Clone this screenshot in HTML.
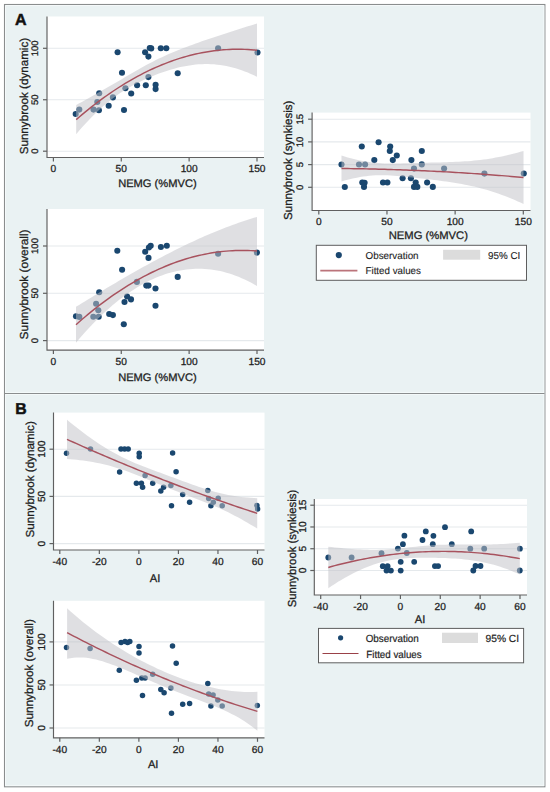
<!DOCTYPE html>
<html><head><meta charset="utf-8"><style>
html,body{margin:0;padding:0;background:#fff;width:550px;height:792px;overflow:hidden;font-family:"Liberation Sans", sans-serif;}
svg{display:block;}
</style></head><body>
<svg width="550" height="792" viewBox="0 0 550 792" text-rendering="geometricPrecision" font-family='"Liberation Sans", sans-serif'>
<rect x="0" y="0" width="550" height="792" fill="#ffffff"/>
<rect x="4.5" y="4.5" width="540.4" height="782.3" fill="#eaf2f3" stroke="#8a8d8e" stroke-width="1.1"/>
<path d="M5.6,5.5 H544 M5.5,5.6 V786 M5.6,392.4 H544 M5.6,394.6 H544 M5.6,785.6 H544 M543.9,5.6 V786" stroke="#f6fafb" stroke-width="0.9" fill="none"/>
<line x1="4.5" y1="393.5" x2="544.5" y2="393.5" stroke="#8a8d8e" stroke-width="1"/>
<rect x="47.00" y="16.50" width="217.00" height="141.00" fill="#ffffff"/>
<line x1="47.00" y1="151.20" x2="264.00" y2="151.20" stroke="#e5e9ec" stroke-width="1.1"/>
<line x1="47.00" y1="99.75" x2="264.00" y2="99.75" stroke="#e5e9ec" stroke-width="1.1"/>
<line x1="47.00" y1="48.30" x2="264.00" y2="48.30" stroke="#e5e9ec" stroke-width="1.1"/>
<circle cx="75.70" cy="114.00" r="3.05" fill="#1a476f"/>
<circle cx="79.30" cy="109.60" r="3.05" fill="#1a476f"/>
<circle cx="93.50" cy="109.60" r="3.05" fill="#1a476f"/>
<circle cx="97.30" cy="102.00" r="3.05" fill="#1a476f"/>
<circle cx="98.90" cy="110.20" r="3.05" fill="#1a476f"/>
<circle cx="99.20" cy="93.30" r="3.05" fill="#1a476f"/>
<circle cx="108.70" cy="105.80" r="3.05" fill="#1a476f"/>
<circle cx="112.90" cy="97.40" r="3.05" fill="#1a476f"/>
<circle cx="117.60" cy="52.30" r="3.05" fill="#1a476f"/>
<circle cx="122.00" cy="72.80" r="3.05" fill="#1a476f"/>
<circle cx="124.00" cy="110.00" r="3.05" fill="#1a476f"/>
<circle cx="125.40" cy="88.20" r="3.05" fill="#1a476f"/>
<circle cx="131.20" cy="93.50" r="3.05" fill="#1a476f"/>
<circle cx="137.10" cy="85.30" r="3.05" fill="#1a476f"/>
<circle cx="145.80" cy="85.30" r="3.05" fill="#1a476f"/>
<circle cx="145.10" cy="52.20" r="3.05" fill="#1a476f"/>
<circle cx="148.40" cy="56.60" r="3.05" fill="#1a476f"/>
<circle cx="149.80" cy="48.00" r="3.05" fill="#1a476f"/>
<circle cx="151.20" cy="48.40" r="3.05" fill="#1a476f"/>
<circle cx="148.40" cy="77.10" r="3.05" fill="#1a476f"/>
<circle cx="155.60" cy="84.70" r="3.05" fill="#1a476f"/>
<circle cx="155.60" cy="89.10" r="3.05" fill="#1a476f"/>
<circle cx="160.80" cy="48.20" r="3.05" fill="#1a476f"/>
<circle cx="166.30" cy="48.20" r="3.05" fill="#1a476f"/>
<circle cx="177.70" cy="73.20" r="3.05" fill="#1a476f"/>
<circle cx="218.10" cy="48.20" r="3.05" fill="#1a476f"/>
<circle cx="257.50" cy="52.50" r="3.05" fill="#1a476f"/>
<polygon points="76.20,105.05 79.26,103.34 82.33,101.64 85.39,99.93 88.46,98.22 91.52,96.51 94.59,94.80 97.65,93.08 100.72,91.34 103.78,89.60 106.84,87.84 109.91,86.07 112.97,84.29 116.04,82.50 119.10,80.69 122.17,78.88 125.23,77.07 128.29,75.26 131.36,73.46 134.42,71.68 137.49,69.92 140.55,68.19 143.62,66.50 146.68,64.84 149.75,63.21 152.81,61.63 155.87,60.09 158.94,58.60 162.00,57.15 165.07,55.73 168.13,54.36 171.20,53.03 174.26,51.74 177.33,50.48 180.39,49.25 183.45,48.06 186.52,46.89 189.58,45.75 192.65,44.63 195.71,43.52 198.78,42.44 201.84,41.37 204.91,40.31 207.97,39.27 211.03,38.23 214.10,37.21 217.16,36.19 220.23,35.18 223.29,34.17 226.36,33.17 229.42,32.18 232.48,31.20 235.55,30.22 238.61,29.24 241.68,28.27 244.74,27.31 247.81,26.36 250.87,25.41 253.94,24.46 257.00,23.53 257.00,76.86 253.94,75.35 250.87,73.94 247.81,72.62 244.74,71.40 241.68,70.27 238.61,69.23 235.55,68.29 232.48,67.45 229.42,66.70 226.36,66.04 223.29,65.48 220.23,65.02 217.16,64.65 214.10,64.37 211.03,64.18 207.97,64.09 204.91,64.09 201.84,64.17 198.78,64.35 195.71,64.61 192.65,64.95 189.58,65.38 186.52,65.88 183.45,66.46 180.39,67.11 177.33,67.84 174.26,68.63 171.20,69.49 168.13,70.41 165.07,71.39 162.00,72.43 158.94,73.54 155.87,74.69 152.81,75.91 149.75,77.19 146.68,78.52 143.62,79.92 140.55,81.38 137.49,82.91 134.42,84.52 131.36,86.20 128.29,87.96 125.23,89.82 122.17,91.77 119.10,93.83 116.04,95.99 112.97,98.26 109.91,100.64 106.84,103.14 103.78,105.75 100.72,108.48 97.65,111.32 94.59,114.27 91.52,117.32 88.46,120.49 85.39,123.75 82.33,127.12 79.26,130.59 76.20,134.16" fill="rgba(194,194,199,0.52)"/>
<polyline points="76.20,119.61 79.26,116.97 82.33,114.38 85.39,111.84 88.46,109.36 91.52,106.92 94.59,104.53 97.65,102.20 100.72,99.91 103.78,97.68 106.84,95.49 109.91,93.36 112.97,91.27 116.04,89.24 119.10,87.26 122.17,85.33 125.23,83.44 128.29,81.61 131.36,79.83 134.42,78.10 137.49,76.42 140.55,74.79 143.62,73.21 146.68,71.68 149.75,70.20 152.81,68.77 155.87,67.39 158.94,66.07 162.00,64.79 165.07,63.56 168.13,62.39 171.20,61.26 174.26,60.18 177.33,59.16 180.39,58.18 183.45,57.26 186.52,56.39 189.58,55.56 192.65,54.79 195.71,54.07 198.78,53.39 201.84,52.77 204.91,52.20 207.97,51.68 211.03,51.21 214.10,50.79 217.16,50.42 220.23,50.10 223.29,49.83 226.36,49.61 229.42,49.44 232.48,49.32 235.55,49.26 238.61,49.24 241.68,49.27 244.74,49.35 247.81,49.49 250.87,49.67 253.94,49.91 257.00,50.19" fill="none" stroke="#a8525e" stroke-width="1.45"/>
<path d="M47.00,16.50 L47.00,157.50 L264.00,157.50" fill="none" stroke="#606060" stroke-width="1.15"/>
<line x1="43.00" y1="151.20" x2="47.00" y2="151.20" stroke="#606060" stroke-width="1.2"/>
<text x="0" y="0" transform="translate(38.30,151.20) rotate(-90)" font-size="9.50" text-anchor="middle" font-weight="normal" fill="#1e1e1e" stroke="#1e1e1e" stroke-width="0.28">0</text>
<line x1="43.00" y1="99.75" x2="47.00" y2="99.75" stroke="#606060" stroke-width="1.2"/>
<text x="0" y="0" transform="translate(38.30,99.75) rotate(-90)" font-size="9.50" text-anchor="middle" font-weight="normal" fill="#1e1e1e" stroke="#1e1e1e" stroke-width="0.28">50</text>
<line x1="43.00" y1="48.30" x2="47.00" y2="48.30" stroke="#606060" stroke-width="1.2"/>
<text x="0" y="0" transform="translate(38.30,48.30) rotate(-90)" font-size="9.50" text-anchor="middle" font-weight="normal" fill="#1e1e1e" stroke="#1e1e1e" stroke-width="0.28">100</text>
<line x1="53.40" y1="157.50" x2="53.40" y2="161.50" stroke="#606060" stroke-width="1.2"/>
<text x="53.40" y="172.20" font-size="10.20" text-anchor="middle" font-weight="normal" fill="#1e1e1e" stroke="#1e1e1e" stroke-width="0.28">0</text>
<line x1="121.27" y1="157.50" x2="121.27" y2="161.50" stroke="#606060" stroke-width="1.2"/>
<text x="121.27" y="172.20" font-size="10.20" text-anchor="middle" font-weight="normal" fill="#1e1e1e" stroke="#1e1e1e" stroke-width="0.28">50</text>
<line x1="189.13" y1="157.50" x2="189.13" y2="161.50" stroke="#606060" stroke-width="1.2"/>
<text x="189.13" y="172.20" font-size="10.20" text-anchor="middle" font-weight="normal" fill="#1e1e1e" stroke="#1e1e1e" stroke-width="0.28">100</text>
<line x1="257.00" y1="157.50" x2="257.00" y2="161.50" stroke="#606060" stroke-width="1.2"/>
<text x="257.00" y="172.20" font-size="10.20" text-anchor="middle" font-weight="normal" fill="#1e1e1e" stroke="#1e1e1e" stroke-width="0.28">150</text>
<text x="157.40" y="186.60" font-size="11.00" text-anchor="middle" font-weight="normal" fill="#1e1e1e" stroke="#1e1e1e" stroke-width="0.28" textLength="78.5" lengthAdjust="spacingAndGlyphs">NEMG (%MVC)</text>
<text x="0" y="0" transform="translate(27.60,96.10) rotate(-90)" font-size="11.60" text-anchor="middle" font-weight="normal" fill="#1e1e1e" stroke="#1e1e1e" stroke-width="0.28" textLength="116.5" lengthAdjust="spacingAndGlyphs">Sunnybrook (dynamic)</text>
<rect x="47.00" y="209.00" width="217.00" height="141.10" fill="#ffffff"/>
<line x1="47.00" y1="340.60" x2="264.00" y2="340.60" stroke="#e5e9ec" stroke-width="1.1"/>
<line x1="47.00" y1="293.30" x2="264.00" y2="293.30" stroke="#e5e9ec" stroke-width="1.1"/>
<line x1="47.00" y1="246.00" x2="264.00" y2="246.00" stroke="#e5e9ec" stroke-width="1.1"/>
<circle cx="76.00" cy="316.30" r="3.05" fill="#1a476f"/>
<circle cx="79.30" cy="316.90" r="3.05" fill="#1a476f"/>
<circle cx="93.30" cy="316.80" r="3.05" fill="#1a476f"/>
<circle cx="98.70" cy="316.80" r="3.05" fill="#1a476f"/>
<circle cx="98.30" cy="310.30" r="3.05" fill="#1a476f"/>
<circle cx="96.10" cy="303.80" r="3.05" fill="#1a476f"/>
<circle cx="99.20" cy="292.20" r="3.05" fill="#1a476f"/>
<circle cx="109.20" cy="314.00" r="3.05" fill="#1a476f"/>
<circle cx="112.90" cy="315.10" r="3.05" fill="#1a476f"/>
<circle cx="123.80" cy="324.30" r="3.05" fill="#1a476f"/>
<circle cx="124.50" cy="302.00" r="3.05" fill="#1a476f"/>
<circle cx="127.10" cy="296.50" r="3.05" fill="#1a476f"/>
<circle cx="131.00" cy="299.40" r="3.05" fill="#1a476f"/>
<circle cx="117.30" cy="250.70" r="3.05" fill="#1a476f"/>
<circle cx="122.10" cy="269.70" r="3.05" fill="#1a476f"/>
<circle cx="136.90" cy="281.90" r="3.05" fill="#1a476f"/>
<circle cx="146.30" cy="285.60" r="3.05" fill="#1a476f"/>
<circle cx="148.50" cy="285.60" r="3.05" fill="#1a476f"/>
<circle cx="155.50" cy="288.50" r="3.05" fill="#1a476f"/>
<circle cx="155.50" cy="305.70" r="3.05" fill="#1a476f"/>
<circle cx="145.20" cy="251.80" r="3.05" fill="#1a476f"/>
<circle cx="148.50" cy="257.90" r="3.05" fill="#1a476f"/>
<circle cx="148.90" cy="247.50" r="3.05" fill="#1a476f"/>
<circle cx="150.70" cy="245.70" r="3.05" fill="#1a476f"/>
<circle cx="160.90" cy="247.00" r="3.05" fill="#1a476f"/>
<circle cx="166.80" cy="245.70" r="3.05" fill="#1a476f"/>
<circle cx="177.70" cy="276.90" r="3.05" fill="#1a476f"/>
<circle cx="218.10" cy="253.70" r="3.05" fill="#1a476f"/>
<circle cx="256.90" cy="252.60" r="3.05" fill="#1a476f"/>
<polygon points="76.00,306.85 79.07,304.95 82.14,303.05 85.20,301.17 88.27,299.28 91.34,297.40 94.41,295.53 97.47,293.67 100.54,291.81 103.61,289.97 106.68,288.12 109.75,286.29 112.81,284.47 115.88,282.66 118.95,280.85 122.02,279.06 125.08,277.28 128.15,275.51 131.22,273.75 134.29,272.00 137.36,270.26 140.42,268.54 143.49,266.83 146.56,265.14 149.63,263.46 152.69,261.79 155.76,260.14 158.83,258.50 161.90,256.89 164.97,255.28 168.03,253.70 171.10,252.13 174.17,250.57 177.24,249.04 180.31,247.53 183.37,246.03 186.44,244.55 189.51,243.10 192.58,241.66 195.64,240.24 198.71,238.85 201.78,237.47 204.85,236.12 207.92,234.79 210.98,233.49 214.05,232.20 217.12,230.94 220.19,229.71 223.25,228.50 226.32,227.31 229.39,226.15 232.46,225.02 235.53,223.91 238.59,222.83 241.66,221.77 244.73,220.74 247.80,219.74 250.86,218.77 253.93,217.83 257.00,216.92 257.00,286.00 253.93,284.23 250.86,282.56 247.80,280.99 244.73,279.51 241.66,278.13 238.59,276.84 235.53,275.65 232.46,274.55 229.39,273.55 226.32,272.64 223.25,271.83 220.19,271.12 217.12,270.50 214.05,269.97 210.98,269.54 207.92,269.20 204.85,268.96 201.78,268.81 198.71,268.76 195.64,268.80 192.58,268.93 189.51,269.16 186.44,269.48 183.37,269.90 180.31,270.40 177.24,271.01 174.17,271.70 171.10,272.49 168.03,273.37 164.97,274.35 161.90,275.42 158.83,276.58 155.76,277.84 152.69,279.18 149.63,280.62 146.56,282.15 143.49,283.78 140.42,285.50 137.36,287.30 134.29,289.21 131.22,291.20 128.15,293.28 125.08,295.46 122.02,297.73 118.95,300.09 115.88,302.54 112.81,305.08 109.75,307.72 106.68,310.44 103.61,313.26 100.54,316.17 97.47,319.16 94.41,322.25 91.34,325.43 88.27,328.70 85.20,332.06 82.14,335.51 79.07,339.05 76.00,342.69" fill="rgba(194,194,199,0.52)"/>
<polyline points="76.00,324.67 79.07,321.96 82.14,319.30 85.20,316.69 88.27,314.12 91.34,311.61 94.41,309.15 97.47,306.74 100.54,304.38 103.61,302.07 106.68,299.81 109.75,297.61 112.81,295.45 115.88,293.34 118.95,291.28 122.02,289.28 125.08,287.32 128.15,285.42 131.22,283.56 134.29,281.76 137.36,280.00 140.42,278.30 143.49,276.65 146.56,275.05 149.63,273.49 152.69,271.99 155.76,270.54 158.83,269.14 161.90,267.79 164.97,266.49 168.03,265.24 171.10,264.05 174.17,262.90 177.24,261.80 180.31,260.75 183.37,259.76 186.44,258.81 189.51,257.92 192.58,257.07 195.64,256.28 198.71,255.53 201.78,254.84 204.85,254.20 207.92,253.61 210.98,253.06 214.05,252.57 217.12,252.13 220.19,251.74 223.25,251.40 226.32,251.11 229.39,250.87 232.46,250.68 235.53,250.55 238.59,250.46 241.66,250.42 244.73,250.44 247.80,250.50 250.86,250.62 253.93,250.78 257.00,251.00" fill="none" stroke="#a8525e" stroke-width="1.45"/>
<path d="M47.00,209.00 L47.00,350.10 L264.00,350.10" fill="none" stroke="#606060" stroke-width="1.15"/>
<line x1="43.00" y1="340.60" x2="47.00" y2="340.60" stroke="#606060" stroke-width="1.2"/>
<text x="0" y="0" transform="translate(38.30,340.60) rotate(-90)" font-size="9.50" text-anchor="middle" font-weight="normal" fill="#1e1e1e" stroke="#1e1e1e" stroke-width="0.28">0</text>
<line x1="43.00" y1="293.30" x2="47.00" y2="293.30" stroke="#606060" stroke-width="1.2"/>
<text x="0" y="0" transform="translate(38.30,293.30) rotate(-90)" font-size="9.50" text-anchor="middle" font-weight="normal" fill="#1e1e1e" stroke="#1e1e1e" stroke-width="0.28">50</text>
<line x1="43.00" y1="246.00" x2="47.00" y2="246.00" stroke="#606060" stroke-width="1.2"/>
<text x="0" y="0" transform="translate(38.30,246.00) rotate(-90)" font-size="9.50" text-anchor="middle" font-weight="normal" fill="#1e1e1e" stroke="#1e1e1e" stroke-width="0.28">100</text>
<line x1="53.40" y1="350.10" x2="53.40" y2="354.10" stroke="#606060" stroke-width="1.2"/>
<text x="53.40" y="365.00" font-size="10.20" text-anchor="middle" font-weight="normal" fill="#1e1e1e" stroke="#1e1e1e" stroke-width="0.28">0</text>
<line x1="121.27" y1="350.10" x2="121.27" y2="354.10" stroke="#606060" stroke-width="1.2"/>
<text x="121.27" y="365.00" font-size="10.20" text-anchor="middle" font-weight="normal" fill="#1e1e1e" stroke="#1e1e1e" stroke-width="0.28">50</text>
<line x1="189.13" y1="350.10" x2="189.13" y2="354.10" stroke="#606060" stroke-width="1.2"/>
<text x="189.13" y="365.00" font-size="10.20" text-anchor="middle" font-weight="normal" fill="#1e1e1e" stroke="#1e1e1e" stroke-width="0.28">100</text>
<line x1="257.00" y1="350.10" x2="257.00" y2="354.10" stroke="#606060" stroke-width="1.2"/>
<text x="257.00" y="365.00" font-size="10.20" text-anchor="middle" font-weight="normal" fill="#1e1e1e" stroke="#1e1e1e" stroke-width="0.28">150</text>
<text x="157.40" y="381.40" font-size="11.00" text-anchor="middle" font-weight="normal" fill="#1e1e1e" stroke="#1e1e1e" stroke-width="0.28" textLength="78.5" lengthAdjust="spacingAndGlyphs">NEMG (%MVC)</text>
<text x="0" y="0" transform="translate(27.60,284.40) rotate(-90)" font-size="11.60" text-anchor="middle" font-weight="normal" fill="#1e1e1e" stroke="#1e1e1e" stroke-width="0.28" textLength="110.0" lengthAdjust="spacingAndGlyphs">Sunnybrook (overall)</text>
<rect x="312.10" y="112.60" width="218.40" height="97.90" fill="#ffffff"/>
<line x1="312.10" y1="187.30" x2="530.50" y2="187.30" stroke="#e5e9ec" stroke-width="1.1"/>
<line x1="312.10" y1="164.60" x2="530.50" y2="164.60" stroke="#e5e9ec" stroke-width="1.1"/>
<line x1="312.10" y1="141.90" x2="530.50" y2="141.90" stroke="#e5e9ec" stroke-width="1.1"/>
<line x1="312.10" y1="119.20" x2="530.50" y2="119.20" stroke="#e5e9ec" stroke-width="1.1"/>
<circle cx="341.50" cy="164.50" r="3.05" fill="#1a476f"/>
<circle cx="344.80" cy="187.00" r="3.05" fill="#1a476f"/>
<circle cx="359.00" cy="164.50" r="3.05" fill="#1a476f"/>
<circle cx="365.10" cy="164.50" r="3.05" fill="#1a476f"/>
<circle cx="361.80" cy="146.50" r="3.05" fill="#1a476f"/>
<circle cx="362.30" cy="182.50" r="3.05" fill="#1a476f"/>
<circle cx="364.60" cy="182.70" r="3.05" fill="#1a476f"/>
<circle cx="364.00" cy="186.90" r="3.05" fill="#1a476f"/>
<circle cx="374.30" cy="160.10" r="3.05" fill="#1a476f"/>
<circle cx="378.60" cy="142.20" r="3.05" fill="#1a476f"/>
<circle cx="383.00" cy="182.50" r="3.05" fill="#1a476f"/>
<circle cx="387.40" cy="182.50" r="3.05" fill="#1a476f"/>
<circle cx="390.20" cy="146.50" r="3.05" fill="#1a476f"/>
<circle cx="389.80" cy="151.00" r="3.05" fill="#1a476f"/>
<circle cx="396.80" cy="155.50" r="3.05" fill="#1a476f"/>
<circle cx="392.80" cy="160.10" r="3.05" fill="#1a476f"/>
<circle cx="402.60" cy="178.20" r="3.05" fill="#1a476f"/>
<circle cx="411.40" cy="160.10" r="3.05" fill="#1a476f"/>
<circle cx="410.90" cy="178.20" r="3.05" fill="#1a476f"/>
<circle cx="414.00" cy="168.60" r="3.05" fill="#1a476f"/>
<circle cx="415.70" cy="182.50" r="3.05" fill="#1a476f"/>
<circle cx="414.00" cy="186.90" r="3.05" fill="#1a476f"/>
<circle cx="417.30" cy="186.90" r="3.05" fill="#1a476f"/>
<circle cx="421.80" cy="151.00" r="3.05" fill="#1a476f"/>
<circle cx="421.80" cy="164.40" r="3.05" fill="#1a476f"/>
<circle cx="427.10" cy="182.50" r="3.05" fill="#1a476f"/>
<circle cx="432.80" cy="186.90" r="3.05" fill="#1a476f"/>
<circle cx="444.10" cy="168.60" r="3.05" fill="#1a476f"/>
<circle cx="484.40" cy="173.60" r="3.05" fill="#1a476f"/>
<circle cx="523.80" cy="173.50" r="3.05" fill="#1a476f"/>
<polygon points="341.50,155.54 344.58,156.48 347.67,157.38 350.75,158.23 353.84,159.02 356.92,159.76 360.01,160.43 363.09,161.05 366.18,161.60 369.26,162.08 372.35,162.48 375.43,162.81 378.52,163.08 381.60,163.27 384.69,163.40 387.77,163.47 390.86,163.50 393.94,163.49 397.03,163.46 400.11,163.40 403.19,163.33 406.28,163.25 409.36,163.16 412.45,163.07 415.53,162.99 418.62,162.91 421.70,162.83 424.79,162.75 427.87,162.68 430.96,162.60 434.04,162.53 437.13,162.46 440.21,162.39 443.30,162.30 446.38,162.21 449.47,162.12 452.55,162.00 455.64,161.87 458.72,161.72 461.81,161.55 464.89,161.36 467.97,161.14 471.06,160.88 474.14,160.60 477.23,160.29 480.31,159.94 483.40,159.55 486.48,159.13 489.57,158.66 492.65,158.16 495.74,157.62 498.82,157.04 501.91,156.42 504.99,155.76 508.08,155.07 511.16,154.33 514.25,153.55 517.33,152.73 520.42,151.87 523.50,150.97 523.50,203.98 520.42,202.53 517.33,201.14 514.25,199.79 511.16,198.49 508.08,197.23 504.99,196.03 501.91,194.88 498.82,193.77 495.74,192.71 492.65,191.70 489.57,190.74 486.48,189.82 483.40,188.95 480.31,188.13 477.23,187.35 474.14,186.61 471.06,185.92 467.97,185.26 464.89,184.65 461.81,184.06 458.72,183.52 455.64,183.00 452.55,182.50 449.47,182.04 446.38,181.59 443.30,181.17 440.21,180.76 437.13,180.36 434.04,179.98 430.96,179.60 427.87,179.23 424.79,178.87 421.70,178.52 418.62,178.17 415.53,177.82 412.45,177.49 409.36,177.15 406.28,176.83 403.19,176.52 400.11,176.23 397.03,175.96 393.94,175.72 390.86,175.52 387.77,175.36 384.69,175.25 381.60,175.21 378.52,175.25 375.43,175.35 372.35,175.54 369.26,175.81 366.18,176.16 363.09,176.59 360.01,177.09 356.92,177.67 353.84,178.31 350.75,179.02 347.67,179.78 344.58,180.61 341.50,181.49" fill="rgba(194,194,199,0.52)"/>
<polyline points="341.50,168.52 344.58,168.55 347.67,168.58 350.75,168.62 353.84,168.66 356.92,168.71 360.01,168.76 363.09,168.82 366.18,168.88 369.26,168.94 372.35,169.01 375.43,169.08 378.52,169.16 381.60,169.24 384.69,169.33 387.77,169.42 390.86,169.51 393.94,169.61 397.03,169.71 400.11,169.81 403.19,169.92 406.28,170.04 409.36,170.16 412.45,170.28 415.53,170.41 418.62,170.54 421.70,170.67 424.79,170.81 427.87,170.96 430.96,171.10 434.04,171.25 437.13,171.41 440.21,171.57 443.30,171.74 446.38,171.90 449.47,172.08 452.55,172.25 455.64,172.43 458.72,172.62 461.81,172.81 464.89,173.00 467.97,173.20 471.06,173.40 474.14,173.61 477.23,173.82 480.31,174.03 483.40,174.25 486.48,174.47 489.57,174.70 492.65,174.93 495.74,175.17 498.82,175.41 501.91,175.65 504.99,175.90 508.08,176.15 511.16,176.41 514.25,176.67 517.33,176.93 520.42,177.20 523.50,177.47" fill="none" stroke="#a8525e" stroke-width="1.45"/>
<path d="M312.10,112.60 L312.10,210.50 L530.50,210.50" fill="none" stroke="#606060" stroke-width="1.15"/>
<line x1="308.10" y1="187.30" x2="312.10" y2="187.30" stroke="#606060" stroke-width="1.2"/>
<text x="0" y="0" transform="translate(303.00,187.30) rotate(-90)" font-size="9.50" text-anchor="middle" font-weight="normal" fill="#1e1e1e" stroke="#1e1e1e" stroke-width="0.28">0</text>
<line x1="308.10" y1="164.60" x2="312.10" y2="164.60" stroke="#606060" stroke-width="1.2"/>
<text x="0" y="0" transform="translate(303.00,164.60) rotate(-90)" font-size="9.50" text-anchor="middle" font-weight="normal" fill="#1e1e1e" stroke="#1e1e1e" stroke-width="0.28">5</text>
<line x1="308.10" y1="141.90" x2="312.10" y2="141.90" stroke="#606060" stroke-width="1.2"/>
<text x="0" y="0" transform="translate(303.00,141.90) rotate(-90)" font-size="9.50" text-anchor="middle" font-weight="normal" fill="#1e1e1e" stroke="#1e1e1e" stroke-width="0.28">10</text>
<line x1="308.10" y1="119.20" x2="312.10" y2="119.20" stroke="#606060" stroke-width="1.2"/>
<text x="0" y="0" transform="translate(303.00,119.20) rotate(-90)" font-size="9.50" text-anchor="middle" font-weight="normal" fill="#1e1e1e" stroke="#1e1e1e" stroke-width="0.28">15</text>
<line x1="318.80" y1="210.50" x2="318.80" y2="214.50" stroke="#606060" stroke-width="1.2"/>
<text x="318.80" y="225.20" font-size="10.20" text-anchor="middle" font-weight="normal" fill="#1e1e1e" stroke="#1e1e1e" stroke-width="0.28">0</text>
<line x1="386.97" y1="210.50" x2="386.97" y2="214.50" stroke="#606060" stroke-width="1.2"/>
<text x="386.97" y="225.20" font-size="10.20" text-anchor="middle" font-weight="normal" fill="#1e1e1e" stroke="#1e1e1e" stroke-width="0.28">50</text>
<line x1="455.13" y1="210.50" x2="455.13" y2="214.50" stroke="#606060" stroke-width="1.2"/>
<text x="455.13" y="225.20" font-size="10.20" text-anchor="middle" font-weight="normal" fill="#1e1e1e" stroke="#1e1e1e" stroke-width="0.28">100</text>
<line x1="523.30" y1="210.50" x2="523.30" y2="214.50" stroke="#606060" stroke-width="1.2"/>
<text x="523.30" y="225.20" font-size="10.20" text-anchor="middle" font-weight="normal" fill="#1e1e1e" stroke="#1e1e1e" stroke-width="0.28">150</text>
<text x="428.30" y="238.60" font-size="11.00" text-anchor="middle" font-weight="normal" fill="#1e1e1e" stroke="#1e1e1e" stroke-width="0.28" textLength="79.2" lengthAdjust="spacingAndGlyphs">NEMG (%MVC)</text>
<text x="0" y="0" transform="translate(292.30,160.30) rotate(-90)" font-size="11.60" text-anchor="middle" font-weight="normal" fill="#1e1e1e" stroke="#1e1e1e" stroke-width="0.28" textLength="119.3" lengthAdjust="spacingAndGlyphs">Sunnybrook (synkiesis)</text>
<rect x="53.50" y="412.60" width="211.00" height="137.40" fill="#ffffff"/>
<line x1="53.50" y1="543.60" x2="264.50" y2="543.60" stroke="#e5e9ec" stroke-width="1.1"/>
<line x1="53.50" y1="496.40" x2="264.50" y2="496.40" stroke="#e5e9ec" stroke-width="1.1"/>
<line x1="53.50" y1="449.20" x2="264.50" y2="449.20" stroke="#e5e9ec" stroke-width="1.1"/>
<circle cx="66.50" cy="453.20" r="2.75" fill="#1a476f"/>
<circle cx="90.50" cy="449.00" r="2.75" fill="#1a476f"/>
<circle cx="121.00" cy="449.00" r="2.75" fill="#1a476f"/>
<circle cx="124.60" cy="449.00" r="2.75" fill="#1a476f"/>
<circle cx="128.20" cy="449.00" r="2.75" fill="#1a476f"/>
<circle cx="139.20" cy="453.20" r="2.75" fill="#1a476f"/>
<circle cx="139.20" cy="456.70" r="2.75" fill="#1a476f"/>
<circle cx="119.60" cy="471.90" r="2.75" fill="#1a476f"/>
<circle cx="136.40" cy="483.30" r="2.75" fill="#1a476f"/>
<circle cx="141.40" cy="483.30" r="2.75" fill="#1a476f"/>
<circle cx="142.60" cy="487.20" r="2.75" fill="#1a476f"/>
<circle cx="145.10" cy="475.60" r="2.75" fill="#1a476f"/>
<circle cx="152.70" cy="483.30" r="2.75" fill="#1a476f"/>
<circle cx="160.80" cy="490.90" r="2.75" fill="#1a476f"/>
<circle cx="163.60" cy="487.20" r="2.75" fill="#1a476f"/>
<circle cx="170.90" cy="485.50" r="2.75" fill="#1a476f"/>
<circle cx="172.60" cy="453.10" r="2.75" fill="#1a476f"/>
<circle cx="176.10" cy="471.80" r="2.75" fill="#1a476f"/>
<circle cx="171.50" cy="505.80" r="2.75" fill="#1a476f"/>
<circle cx="182.70" cy="494.50" r="2.75" fill="#1a476f"/>
<circle cx="189.60" cy="502.20" r="2.75" fill="#1a476f"/>
<circle cx="207.80" cy="490.50" r="2.75" fill="#1a476f"/>
<circle cx="208.70" cy="498.50" r="2.75" fill="#1a476f"/>
<circle cx="213.30" cy="502.20" r="2.75" fill="#1a476f"/>
<circle cx="210.90" cy="505.80" r="2.75" fill="#1a476f"/>
<circle cx="218.20" cy="498.20" r="2.75" fill="#1a476f"/>
<circle cx="222.20" cy="505.80" r="2.75" fill="#1a476f"/>
<circle cx="256.90" cy="505.50" r="2.75" fill="#1a476f"/>
<circle cx="257.60" cy="509.10" r="2.75" fill="#1a476f"/>
<polygon points="67.00,419.81 70.22,422.46 73.45,425.07 76.67,427.62 79.89,430.12 83.12,432.56 86.34,434.95 89.57,437.27 92.79,439.54 96.01,441.75 99.24,443.90 102.46,445.98 105.68,447.99 108.91,449.94 112.13,451.81 115.36,453.60 118.58,455.33 121.80,456.97 125.03,458.55 128.25,460.05 131.47,461.49 134.70,462.88 137.92,464.22 141.15,465.51 144.37,466.77 147.59,468.01 150.82,469.23 154.04,470.43 157.26,471.63 160.49,472.82 163.71,474.01 166.94,475.20 170.16,476.39 173.38,477.58 176.61,478.76 179.83,479.95 183.05,481.13 186.28,482.31 189.50,483.48 192.73,484.63 195.95,485.77 199.17,486.88 202.40,487.96 205.62,489.01 208.84,490.02 212.07,490.98 215.29,491.89 218.52,492.74 221.74,493.54 224.96,494.27 228.19,494.94 231.41,495.54 234.63,496.09 237.86,496.56 241.08,496.98 244.31,497.33 247.53,497.62 250.75,497.85 253.98,498.02 257.20,498.14 257.20,528.57 253.98,526.58 250.75,524.64 247.53,522.75 244.31,520.90 241.08,519.10 237.86,517.34 234.63,515.64 231.41,513.98 228.19,512.37 224.96,510.82 221.74,509.31 218.52,507.85 215.29,506.44 212.07,505.07 208.84,503.73 205.62,502.43 202.40,501.15 199.17,499.90 195.95,498.65 192.73,497.42 189.50,496.20 186.28,494.97 183.05,493.73 179.83,492.49 176.61,491.24 173.38,489.98 170.16,488.70 166.94,487.41 163.71,486.10 160.49,484.78 157.26,483.45 154.04,482.11 150.82,480.77 147.59,479.42 144.37,478.08 141.15,476.75 137.92,475.43 134.70,474.15 131.47,472.90 128.25,471.69 125.03,470.53 121.80,469.43 118.58,468.38 115.36,467.40 112.13,466.47 108.91,465.61 105.68,464.80 102.46,464.05 99.24,463.36 96.01,462.71 92.79,462.12 89.57,461.57 86.34,461.06 83.12,460.60 79.89,460.18 76.67,459.80 73.45,459.46 70.22,459.16 67.00,458.90" fill="rgba(194,194,199,0.52)"/>
<polyline points="67.00,439.35 70.22,440.81 73.45,442.27 76.67,443.71 79.89,445.15 83.12,446.58 86.34,448.00 89.57,449.42 92.79,450.83 96.01,452.23 99.24,453.63 102.46,455.02 105.68,456.40 108.91,457.77 112.13,459.14 115.36,460.50 118.58,461.85 121.80,463.20 125.03,464.54 128.25,465.87 131.47,467.20 134.70,468.51 137.92,469.83 141.15,471.13 144.37,472.43 147.59,473.72 150.82,475.00 154.04,476.27 157.26,477.54 160.49,478.80 163.71,480.06 166.94,481.30 170.16,482.54 173.38,483.78 176.61,485.00 179.83,486.22 183.05,487.43 186.28,488.64 189.50,489.84 192.73,491.03 195.95,492.21 199.17,493.39 202.40,494.56 205.62,495.72 208.84,496.87 212.07,498.02 215.29,499.16 218.52,500.30 221.74,501.42 224.96,502.54 228.19,503.66 231.41,504.76 234.63,505.86 237.86,506.95 241.08,508.04 244.31,509.11 247.53,510.18 250.75,511.25 253.98,512.30 257.20,513.35" fill="none" stroke="#a8525e" stroke-width="1.45"/>
<path d="M53.50,412.60 L53.50,550.00 L264.50,550.00" fill="none" stroke="#606060" stroke-width="1.15"/>
<line x1="49.50" y1="543.60" x2="53.50" y2="543.60" stroke="#606060" stroke-width="1.2"/>
<text x="0" y="0" transform="translate(44.90,543.60) rotate(-90)" font-size="10.20" text-anchor="middle" font-weight="normal" fill="#1e1e1e" stroke="#1e1e1e" stroke-width="0.28">0</text>
<line x1="49.50" y1="496.40" x2="53.50" y2="496.40" stroke="#606060" stroke-width="1.2"/>
<text x="0" y="0" transform="translate(44.90,496.40) rotate(-90)" font-size="10.20" text-anchor="middle" font-weight="normal" fill="#1e1e1e" stroke="#1e1e1e" stroke-width="0.28">50</text>
<line x1="49.50" y1="449.20" x2="53.50" y2="449.20" stroke="#606060" stroke-width="1.2"/>
<text x="0" y="0" transform="translate(44.90,449.20) rotate(-90)" font-size="10.20" text-anchor="middle" font-weight="normal" fill="#1e1e1e" stroke="#1e1e1e" stroke-width="0.28">100</text>
<line x1="59.80" y1="550.00" x2="59.80" y2="554.00" stroke="#606060" stroke-width="1.2"/>
<text x="59.80" y="564.80" font-size="10.20" text-anchor="middle" font-weight="normal" fill="#1e1e1e" stroke="#1e1e1e" stroke-width="0.28">-40</text>
<line x1="99.34" y1="550.00" x2="99.34" y2="554.00" stroke="#606060" stroke-width="1.2"/>
<text x="99.34" y="564.80" font-size="10.20" text-anchor="middle" font-weight="normal" fill="#1e1e1e" stroke="#1e1e1e" stroke-width="0.28">-20</text>
<line x1="138.88" y1="550.00" x2="138.88" y2="554.00" stroke="#606060" stroke-width="1.2"/>
<text x="138.88" y="564.80" font-size="10.20" text-anchor="middle" font-weight="normal" fill="#1e1e1e" stroke="#1e1e1e" stroke-width="0.28">0</text>
<line x1="178.42" y1="550.00" x2="178.42" y2="554.00" stroke="#606060" stroke-width="1.2"/>
<text x="178.42" y="564.80" font-size="10.20" text-anchor="middle" font-weight="normal" fill="#1e1e1e" stroke="#1e1e1e" stroke-width="0.28">20</text>
<line x1="217.96" y1="550.00" x2="217.96" y2="554.00" stroke="#606060" stroke-width="1.2"/>
<text x="217.96" y="564.80" font-size="10.20" text-anchor="middle" font-weight="normal" fill="#1e1e1e" stroke="#1e1e1e" stroke-width="0.28">40</text>
<line x1="257.50" y1="550.00" x2="257.50" y2="554.00" stroke="#606060" stroke-width="1.2"/>
<text x="257.50" y="564.80" font-size="10.20" text-anchor="middle" font-weight="normal" fill="#1e1e1e" stroke="#1e1e1e" stroke-width="0.28">60</text>
<text x="155.10" y="581.80" font-size="11.20" text-anchor="middle" font-weight="normal" fill="#1e1e1e" stroke="#1e1e1e" stroke-width="0.28">AI</text>
<text x="0" y="0" transform="translate(33.80,479.30) rotate(-90)" font-size="11.60" text-anchor="middle" font-weight="normal" fill="#1e1e1e" stroke="#1e1e1e" stroke-width="0.28" textLength="116.2" lengthAdjust="spacingAndGlyphs">Sunnybrook (dynamic)</text>
<rect x="53.50" y="600.80" width="211.00" height="137.00" fill="#ffffff"/>
<line x1="53.50" y1="728.00" x2="264.50" y2="728.00" stroke="#e5e9ec" stroke-width="1.1"/>
<line x1="53.50" y1="684.95" x2="264.50" y2="684.95" stroke="#e5e9ec" stroke-width="1.1"/>
<line x1="53.50" y1="641.90" x2="264.50" y2="641.90" stroke="#e5e9ec" stroke-width="1.1"/>
<circle cx="66.50" cy="647.60" r="2.75" fill="#1a476f"/>
<circle cx="90.10" cy="648.40" r="2.75" fill="#1a476f"/>
<circle cx="121.10" cy="642.50" r="2.75" fill="#1a476f"/>
<circle cx="125.00" cy="641.50" r="2.75" fill="#1a476f"/>
<circle cx="127.60" cy="642.50" r="2.75" fill="#1a476f"/>
<circle cx="129.80" cy="641.50" r="2.75" fill="#1a476f"/>
<circle cx="139.00" cy="646.50" r="2.75" fill="#1a476f"/>
<circle cx="139.00" cy="653.00" r="2.75" fill="#1a476f"/>
<circle cx="119.30" cy="670.30" r="2.75" fill="#1a476f"/>
<circle cx="136.40" cy="680.30" r="2.75" fill="#1a476f"/>
<circle cx="141.80" cy="677.90" r="2.75" fill="#1a476f"/>
<circle cx="145.10" cy="677.90" r="2.75" fill="#1a476f"/>
<circle cx="152.70" cy="674.20" r="2.75" fill="#1a476f"/>
<circle cx="142.50" cy="695.60" r="2.75" fill="#1a476f"/>
<circle cx="160.80" cy="689.50" r="2.75" fill="#1a476f"/>
<circle cx="164.10" cy="692.70" r="2.75" fill="#1a476f"/>
<circle cx="170.90" cy="688.00" r="2.75" fill="#1a476f"/>
<circle cx="172.50" cy="646.00" r="2.75" fill="#1a476f"/>
<circle cx="176.20" cy="663.30" r="2.75" fill="#1a476f"/>
<circle cx="171.50" cy="713.30" r="2.75" fill="#1a476f"/>
<circle cx="182.70" cy="704.20" r="2.75" fill="#1a476f"/>
<circle cx="189.60" cy="703.60" r="2.75" fill="#1a476f"/>
<circle cx="207.80" cy="683.60" r="2.75" fill="#1a476f"/>
<circle cx="208.70" cy="694.00" r="2.75" fill="#1a476f"/>
<circle cx="213.10" cy="694.90" r="2.75" fill="#1a476f"/>
<circle cx="217.80" cy="700.00" r="2.75" fill="#1a476f"/>
<circle cx="210.90" cy="706.00" r="2.75" fill="#1a476f"/>
<circle cx="222.20" cy="706.00" r="2.75" fill="#1a476f"/>
<circle cx="257.30" cy="705.50" r="2.75" fill="#1a476f"/>
<polygon points="67.10,608.20 70.33,611.13 73.55,613.98 76.78,616.77 80.00,619.49 83.23,622.15 86.45,624.74 89.68,627.28 92.90,629.75 96.13,632.17 99.35,634.53 102.58,636.84 105.81,639.09 109.03,641.29 112.26,643.44 115.48,645.54 118.71,647.59 121.93,649.59 125.16,651.55 128.38,653.46 131.61,655.32 134.83,657.13 138.06,658.91 141.28,660.64 144.51,662.32 147.74,663.96 150.96,665.56 154.19,667.12 157.41,668.63 160.64,670.10 163.86,671.53 167.09,672.91 170.31,674.26 173.54,675.56 176.76,676.81 179.99,678.02 183.22,679.19 186.44,680.32 189.67,681.39 192.89,682.43 196.12,683.41 199.34,684.35 202.57,685.24 205.79,686.08 209.02,686.87 212.24,687.61 215.47,688.30 218.69,688.93 221.92,689.51 225.15,690.03 228.37,690.49 231.60,690.89 234.82,691.24 238.05,691.52 241.27,691.73 244.50,691.88 247.72,691.96 250.95,691.97 254.17,691.91 257.40,691.78 257.40,730.84 254.17,728.20 250.95,725.74 247.72,723.43 244.50,721.28 241.27,719.27 238.05,717.37 234.82,715.59 231.60,713.90 228.37,712.30 225.15,710.78 221.92,709.33 218.69,707.93 215.47,706.58 212.24,705.28 209.02,704.00 205.79,702.76 202.57,701.53 199.34,700.31 196.12,699.10 192.89,697.90 189.67,696.69 186.44,695.47 183.22,694.25 179.99,693.01 176.76,691.76 173.54,690.49 170.31,689.20 167.09,687.90 163.86,686.57 160.64,685.22 157.41,683.86 154.19,682.48 150.96,681.09 147.74,679.68 144.51,678.26 141.28,676.84 138.06,675.42 134.83,674.00 131.61,672.59 128.38,671.19 125.16,669.81 121.93,668.46 118.71,667.14 115.48,665.87 112.26,664.65 109.03,663.48 105.81,662.39 102.58,661.37 99.35,660.45 96.13,659.62 92.90,658.91 89.68,658.32 86.45,657.87 83.23,657.57 80.00,657.44 76.78,657.48 73.55,657.72 70.33,658.16 67.10,658.84" fill="rgba(194,194,199,0.52)"/>
<polyline points="67.10,632.66 70.33,634.36 73.55,636.05 76.78,637.73 80.00,639.40 83.23,641.05 86.45,642.69 89.68,644.32 92.90,645.93 96.13,647.53 99.35,649.12 102.58,650.70 105.81,652.26 109.03,653.81 112.26,655.35 115.48,656.87 118.71,658.38 121.93,659.88 125.16,661.37 128.38,662.84 131.61,664.30 134.83,665.75 138.06,667.19 141.28,668.61 144.51,670.02 147.74,671.42 150.96,672.80 154.19,674.18 157.41,675.54 160.64,676.88 163.86,678.22 167.09,679.54 170.31,680.84 173.54,682.14 176.76,683.42 179.99,684.69 183.22,685.95 186.44,687.19 189.67,688.43 192.89,689.65 196.12,690.85 199.34,692.05 202.57,693.23 205.79,694.39 209.02,695.55 212.24,696.69 215.47,697.82 218.69,698.94 221.92,700.04 225.15,701.14 228.37,702.21 231.60,703.28 234.82,704.33 238.05,705.38 241.27,706.40 244.50,707.42 247.72,708.42 250.95,709.41 254.17,710.39 257.40,711.35" fill="none" stroke="#a8525e" stroke-width="1.45"/>
<path d="M53.50,600.80 L53.50,737.80 L264.50,737.80" fill="none" stroke="#606060" stroke-width="1.15"/>
<line x1="49.50" y1="728.00" x2="53.50" y2="728.00" stroke="#606060" stroke-width="1.2"/>
<text x="0" y="0" transform="translate(44.90,728.00) rotate(-90)" font-size="10.20" text-anchor="middle" font-weight="normal" fill="#1e1e1e" stroke="#1e1e1e" stroke-width="0.28">0</text>
<line x1="49.50" y1="684.95" x2="53.50" y2="684.95" stroke="#606060" stroke-width="1.2"/>
<text x="0" y="0" transform="translate(44.90,684.95) rotate(-90)" font-size="10.20" text-anchor="middle" font-weight="normal" fill="#1e1e1e" stroke="#1e1e1e" stroke-width="0.28">50</text>
<line x1="49.50" y1="641.90" x2="53.50" y2="641.90" stroke="#606060" stroke-width="1.2"/>
<text x="0" y="0" transform="translate(44.90,641.90) rotate(-90)" font-size="10.20" text-anchor="middle" font-weight="normal" fill="#1e1e1e" stroke="#1e1e1e" stroke-width="0.28">100</text>
<line x1="59.80" y1="737.80" x2="59.80" y2="741.80" stroke="#606060" stroke-width="1.2"/>
<text x="59.80" y="752.90" font-size="10.20" text-anchor="middle" font-weight="normal" fill="#1e1e1e" stroke="#1e1e1e" stroke-width="0.28">-40</text>
<line x1="99.34" y1="737.80" x2="99.34" y2="741.80" stroke="#606060" stroke-width="1.2"/>
<text x="99.34" y="752.90" font-size="10.20" text-anchor="middle" font-weight="normal" fill="#1e1e1e" stroke="#1e1e1e" stroke-width="0.28">-20</text>
<line x1="138.88" y1="737.80" x2="138.88" y2="741.80" stroke="#606060" stroke-width="1.2"/>
<text x="138.88" y="752.90" font-size="10.20" text-anchor="middle" font-weight="normal" fill="#1e1e1e" stroke="#1e1e1e" stroke-width="0.28">0</text>
<line x1="178.42" y1="737.80" x2="178.42" y2="741.80" stroke="#606060" stroke-width="1.2"/>
<text x="178.42" y="752.90" font-size="10.20" text-anchor="middle" font-weight="normal" fill="#1e1e1e" stroke="#1e1e1e" stroke-width="0.28">20</text>
<line x1="217.96" y1="737.80" x2="217.96" y2="741.80" stroke="#606060" stroke-width="1.2"/>
<text x="217.96" y="752.90" font-size="10.20" text-anchor="middle" font-weight="normal" fill="#1e1e1e" stroke="#1e1e1e" stroke-width="0.28">40</text>
<line x1="257.50" y1="737.80" x2="257.50" y2="741.80" stroke="#606060" stroke-width="1.2"/>
<text x="257.50" y="752.90" font-size="10.20" text-anchor="middle" font-weight="normal" fill="#1e1e1e" stroke="#1e1e1e" stroke-width="0.28">60</text>
<text x="153.20" y="767.60" font-size="11.20" text-anchor="middle" font-weight="normal" fill="#1e1e1e" stroke="#1e1e1e" stroke-width="0.28">AI</text>
<text x="0" y="0" transform="translate(32.80,673.20) rotate(-90)" font-size="11.60" text-anchor="middle" font-weight="normal" fill="#1e1e1e" stroke="#1e1e1e" stroke-width="0.28" textLength="108.1" lengthAdjust="spacingAndGlyphs">Sunnybrook (overall)</text>
<rect x="314.30" y="499.00" width="212.70" height="96.00" fill="#ffffff"/>
<line x1="314.30" y1="570.50" x2="527.00" y2="570.50" stroke="#e5e9ec" stroke-width="1.1"/>
<line x1="314.30" y1="548.73" x2="527.00" y2="548.73" stroke="#e5e9ec" stroke-width="1.1"/>
<line x1="314.30" y1="526.97" x2="527.00" y2="526.97" stroke="#e5e9ec" stroke-width="1.1"/>
<line x1="314.30" y1="505.20" x2="527.00" y2="505.20" stroke="#e5e9ec" stroke-width="1.1"/>
<circle cx="328.30" cy="557.50" r="2.90" fill="#1a476f"/>
<circle cx="351.60" cy="557.50" r="2.90" fill="#1a476f"/>
<circle cx="381.50" cy="553.20" r="2.90" fill="#1a476f"/>
<circle cx="397.90" cy="548.60" r="2.90" fill="#1a476f"/>
<circle cx="406.80" cy="553.00" r="2.90" fill="#1a476f"/>
<circle cx="404.40" cy="535.70" r="2.90" fill="#1a476f"/>
<circle cx="402.90" cy="544.20" r="2.90" fill="#1a476f"/>
<circle cx="400.70" cy="561.80" r="2.90" fill="#1a476f"/>
<circle cx="400.70" cy="570.60" r="2.90" fill="#1a476f"/>
<circle cx="382.80" cy="566.20" r="2.90" fill="#1a476f"/>
<circle cx="387.60" cy="566.20" r="2.90" fill="#1a476f"/>
<circle cx="386.50" cy="570.60" r="2.90" fill="#1a476f"/>
<circle cx="390.90" cy="570.60" r="2.90" fill="#1a476f"/>
<circle cx="414.20" cy="561.80" r="2.90" fill="#1a476f"/>
<circle cx="422.50" cy="540.00" r="2.90" fill="#1a476f"/>
<circle cx="425.80" cy="531.40" r="2.90" fill="#1a476f"/>
<circle cx="433.40" cy="535.80" r="2.90" fill="#1a476f"/>
<circle cx="432.80" cy="544.20" r="2.90" fill="#1a476f"/>
<circle cx="434.90" cy="566.10" r="2.90" fill="#1a476f"/>
<circle cx="438.10" cy="566.10" r="2.90" fill="#1a476f"/>
<circle cx="445.00" cy="527.20" r="2.90" fill="#1a476f"/>
<circle cx="451.80" cy="544.20" r="2.90" fill="#1a476f"/>
<circle cx="471.20" cy="531.40" r="2.90" fill="#1a476f"/>
<circle cx="470.30" cy="548.70" r="2.90" fill="#1a476f"/>
<circle cx="484.20" cy="548.70" r="2.90" fill="#1a476f"/>
<circle cx="475.50" cy="566.00" r="2.90" fill="#1a476f"/>
<circle cx="480.50" cy="566.00" r="2.90" fill="#1a476f"/>
<circle cx="473.30" cy="570.50" r="2.90" fill="#1a476f"/>
<circle cx="519.90" cy="548.70" r="2.90" fill="#1a476f"/>
<circle cx="519.80" cy="570.50" r="2.90" fill="#1a476f"/>
<polygon points="328.30,546.74 331.55,547.11 334.79,547.46 338.04,547.80 341.28,548.12 344.53,548.42 347.77,548.69 351.02,548.94 354.27,549.17 357.51,549.38 360.76,549.55 364.00,549.69 367.25,549.81 370.49,549.88 373.74,549.91 376.99,549.90 380.23,549.84 383.48,549.74 386.72,549.58 389.97,549.37 393.22,549.11 396.46,548.81 399.71,548.47 402.95,548.12 406.20,547.75 409.44,547.37 412.69,547.00 415.94,546.65 419.18,546.31 422.43,546.00 425.67,545.71 428.92,545.45 432.16,545.23 435.41,545.04 438.66,544.87 441.90,544.74 445.15,544.64 448.39,544.57 451.64,544.52 454.88,544.49 458.13,544.48 461.38,544.48 464.62,544.49 467.87,544.51 471.11,544.53 474.36,544.54 477.61,544.55 480.85,544.54 484.10,544.51 487.34,544.47 490.59,544.40 493.83,544.31 497.08,544.20 500.33,544.06 503.57,543.89 506.82,543.70 510.06,543.48 513.31,543.24 516.55,542.97 519.80,542.67 519.80,574.61 516.55,573.12 513.31,571.70 510.06,570.36 506.82,569.10 503.57,567.91 500.33,566.80 497.08,565.77 493.83,564.82 490.59,563.95 487.34,563.14 484.10,562.42 480.85,561.76 477.61,561.17 474.36,560.65 471.11,560.19 467.87,559.78 464.62,559.42 461.38,559.11 458.13,558.85 454.88,558.62 451.64,558.42 448.39,558.26 445.15,558.12 441.90,558.01 438.66,557.92 435.41,557.85 432.16,557.80 428.92,557.77 425.67,557.76 422.43,557.77 419.18,557.80 415.94,557.87 412.69,557.97 409.44,558.10 406.20,558.29 402.95,558.52 399.71,558.83 396.46,559.20 393.22,559.67 389.97,560.22 386.72,560.88 383.48,561.64 380.23,562.50 376.99,563.46 373.74,564.52 370.49,565.68 367.25,566.93 364.00,568.27 360.76,569.70 357.51,571.20 354.27,572.79 351.02,574.45 347.77,576.19 344.53,578.00 341.28,579.89 338.04,581.85 334.79,583.88 331.55,585.98 328.30,588.15" fill="rgba(194,194,199,0.52)"/>
<polyline points="328.30,567.44 331.55,566.54 334.79,565.67 338.04,564.82 341.28,564.00 344.53,563.21 347.77,562.44 351.02,561.70 354.27,560.98 357.51,560.29 360.76,559.62 364.00,558.98 367.25,558.37 370.49,557.78 373.74,557.22 376.99,556.68 380.23,556.17 383.48,555.69 386.72,555.23 389.97,554.79 393.22,554.39 396.46,554.01 399.71,553.65 402.95,553.32 406.20,553.02 409.44,552.74 412.69,552.49 415.94,552.26 419.18,552.06 422.43,551.88 425.67,551.73 428.92,551.61 432.16,551.51 435.41,551.44 438.66,551.40 441.90,551.38 445.15,551.38 448.39,551.41 451.64,551.47 454.88,551.55 458.13,551.66 461.38,551.80 464.62,551.96 467.87,552.14 471.11,552.36 474.36,552.60 477.61,552.86 480.85,553.15 484.10,553.47 487.34,553.81 490.59,554.17 493.83,554.57 497.08,554.99 500.33,555.43 503.57,555.90 506.82,556.40 510.06,556.92 513.31,557.47 516.55,558.04 519.80,558.64" fill="none" stroke="#a8525e" stroke-width="1.45"/>
<path d="M314.30,499.00 L314.30,595.00 L527.00,595.00" fill="none" stroke="#606060" stroke-width="1.15"/>
<line x1="310.30" y1="570.50" x2="314.30" y2="570.50" stroke="#606060" stroke-width="1.2"/>
<text x="0" y="0" transform="translate(305.50,570.50) rotate(-90)" font-size="10.20" text-anchor="middle" font-weight="normal" fill="#1e1e1e" stroke="#1e1e1e" stroke-width="0.28">0</text>
<line x1="310.30" y1="548.73" x2="314.30" y2="548.73" stroke="#606060" stroke-width="1.2"/>
<text x="0" y="0" transform="translate(305.50,548.73) rotate(-90)" font-size="10.20" text-anchor="middle" font-weight="normal" fill="#1e1e1e" stroke="#1e1e1e" stroke-width="0.28">5</text>
<line x1="310.30" y1="526.97" x2="314.30" y2="526.97" stroke="#606060" stroke-width="1.2"/>
<text x="0" y="0" transform="translate(305.50,526.97) rotate(-90)" font-size="10.20" text-anchor="middle" font-weight="normal" fill="#1e1e1e" stroke="#1e1e1e" stroke-width="0.28">10</text>
<line x1="310.30" y1="505.20" x2="314.30" y2="505.20" stroke="#606060" stroke-width="1.2"/>
<text x="0" y="0" transform="translate(305.50,505.20) rotate(-90)" font-size="10.20" text-anchor="middle" font-weight="normal" fill="#1e1e1e" stroke="#1e1e1e" stroke-width="0.28">15</text>
<line x1="320.70" y1="595.00" x2="320.70" y2="599.00" stroke="#606060" stroke-width="1.2"/>
<text x="320.70" y="609.70" font-size="10.20" text-anchor="middle" font-weight="normal" fill="#1e1e1e" stroke="#1e1e1e" stroke-width="0.28">-40</text>
<line x1="360.56" y1="595.00" x2="360.56" y2="599.00" stroke="#606060" stroke-width="1.2"/>
<text x="360.56" y="609.70" font-size="10.20" text-anchor="middle" font-weight="normal" fill="#1e1e1e" stroke="#1e1e1e" stroke-width="0.28">-20</text>
<line x1="400.42" y1="595.00" x2="400.42" y2="599.00" stroke="#606060" stroke-width="1.2"/>
<text x="400.42" y="609.70" font-size="10.20" text-anchor="middle" font-weight="normal" fill="#1e1e1e" stroke="#1e1e1e" stroke-width="0.28">0</text>
<line x1="440.28" y1="595.00" x2="440.28" y2="599.00" stroke="#606060" stroke-width="1.2"/>
<text x="440.28" y="609.70" font-size="10.20" text-anchor="middle" font-weight="normal" fill="#1e1e1e" stroke="#1e1e1e" stroke-width="0.28">20</text>
<line x1="480.14" y1="595.00" x2="480.14" y2="599.00" stroke="#606060" stroke-width="1.2"/>
<text x="480.14" y="609.70" font-size="10.20" text-anchor="middle" font-weight="normal" fill="#1e1e1e" stroke="#1e1e1e" stroke-width="0.28">40</text>
<line x1="520.00" y1="595.00" x2="520.00" y2="599.00" stroke="#606060" stroke-width="1.2"/>
<text x="520.00" y="609.70" font-size="10.20" text-anchor="middle" font-weight="normal" fill="#1e1e1e" stroke="#1e1e1e" stroke-width="0.28">60</text>
<text x="420.00" y="622.60" font-size="11.20" text-anchor="middle" font-weight="normal" fill="#1e1e1e" stroke="#1e1e1e" stroke-width="0.28">AI</text>
<text x="0" y="0" transform="translate(295.70,548.50) rotate(-90)" font-size="11.60" text-anchor="middle" font-weight="normal" fill="#1e1e1e" stroke="#1e1e1e" stroke-width="0.28" textLength="117.6" lengthAdjust="spacingAndGlyphs">Sunnybrook (synkiesis)</text>
<rect x="316.30" y="245.30" width="210.20" height="35.00" fill="#ffffff" stroke="#5e5e5e" stroke-width="1.0"/>
<circle cx="338.80" cy="255.10" r="3.10" fill="#1a476f"/>
<line x1="320.30" y1="270.60" x2="357.40" y2="270.60" stroke="#bb747b" stroke-width="1.70"/>
<rect x="443.10" y="249.80" width="37.10" height="9.90" fill="#dcdcdc"/>
<text x="365.50" y="258.70" font-size="10.00" text-anchor="start" font-weight="normal" fill="#1e1e1e" stroke="#1e1e1e" stroke-width="0.12" textLength="53.1" lengthAdjust="spacingAndGlyphs">Observation</text>
<text x="365.50" y="274.20" font-size="10.00" text-anchor="start" font-weight="normal" fill="#1e1e1e" stroke="#1e1e1e" stroke-width="0.12" textLength="55.4" lengthAdjust="spacingAndGlyphs">Fitted values</text>
<text x="488.00" y="259.00" font-size="10.00" text-anchor="start" font-weight="normal" fill="#1e1e1e" stroke="#1e1e1e" stroke-width="0.12" textLength="32.2" lengthAdjust="spacingAndGlyphs">95% CI</text>
<rect x="318.50" y="628.40" width="205.10" height="34.40" fill="#ffffff" stroke="#5e5e5e" stroke-width="1.0"/>
<circle cx="340.60" cy="637.80" r="2.60" fill="#1a476f"/>
<line x1="322.50" y1="653.50" x2="358.50" y2="653.50" stroke="#9a4148" stroke-width="1.00"/>
<rect x="442.00" y="632.70" width="36.00" height="10.30" fill="#dcdcdc"/>
<text x="365.70" y="641.90" font-size="10.40" text-anchor="start" font-weight="normal" fill="#1e1e1e" stroke="#1e1e1e" stroke-width="0.20" textLength="53.1" lengthAdjust="spacingAndGlyphs">Observation</text>
<text x="366.30" y="657.80" font-size="10.40" text-anchor="start" font-weight="normal" fill="#1e1e1e" stroke="#1e1e1e" stroke-width="0.20" textLength="55.4" lengthAdjust="spacingAndGlyphs">Fitted values</text>
<text x="485.50" y="642.10" font-size="10.40" text-anchor="start" font-weight="normal" fill="#1e1e1e" stroke="#1e1e1e" stroke-width="0.20" textLength="33.6" lengthAdjust="spacingAndGlyphs">95% CI</text>
<text x="20.80" y="25.20" font-size="16.00" text-anchor="middle" font-weight="bold" fill="#111" stroke="#111" stroke-width="0.50">A</text>
<text x="20.90" y="413.80" font-size="15.80" text-anchor="middle" font-weight="bold" fill="#111" stroke="#111" stroke-width="0.50">B</text>
</svg>
</body></html>
